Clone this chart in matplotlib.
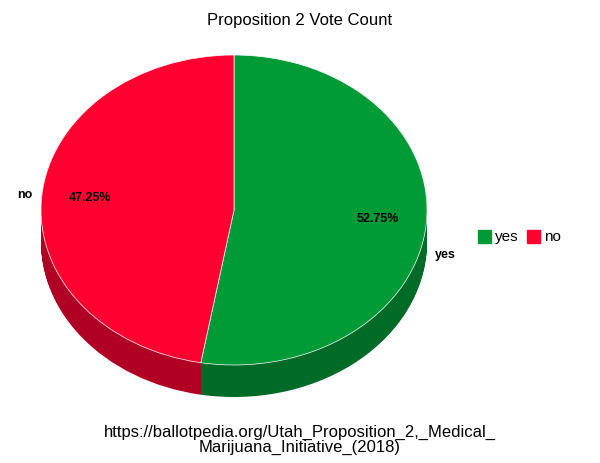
import matplotlib
matplotlib.use("Agg")
import matplotlib.pyplot as plt
import numpy as np

plt.rcParams['font.family'] = ['Liberation Sans', 'DejaVu Sans']

labels = ["yes", "no"]
values = [52.75, 47.25]
pct_text = ["52.75%", "47.25%"]
top_colors = ["#009a37", "#ff0030"]
side_colors = ["#006b26", "#b00024"]

W, H = 600, 463
fig = plt.figure(figsize=(6, 4.63), dpi=100)
depth = 32 / 155.0
x0, x1, yt, yb = 41, 427, 55, 365 + 32
ax = fig.add_axes([x0 / W, 1 - yb / H, (x1 - x0) / W, (yb - yt) / H])

for d in np.linspace(depth, 0.005, 40):
    ax.pie(values, colors=side_colors, startangle=90, counterclock=False,
           center=(0, -d), radius=1, frame=False,
           wedgeprops=dict(linewidth=0))
ax.pie(values, colors=top_colors, startangle=90, counterclock=False,
       center=(0, 0), radius=1, frame=False,
       wedgeprops=dict(linewidth=0.5, edgecolor="white"))
ax.set_aspect("auto")
ax.set_xlim(-1, 1)
ax.set_ylim(-1 - depth, 1)
ax.axis("off")

def ft(x, y, s, **kw):
    fig.text(x / W, 1 - y / H, s, **kw)

ft(300, 20, "Proposition 2 Vote Count", ha="center", va="center", fontsize=12)
ft(378, 219, pct_text[0], ha="center", va="center", fontsize=9, fontweight="bold")
ft(90, 198, pct_text[1], ha="center", va="center", fontsize=9, fontweight="bold")
ft(445, 255, labels[0], ha="center", va="center", fontsize=9, fontweight="bold")
ft(25, 195, labels[1], ha="center", va="center", fontsize=9, fontweight="bold")

for (lx, c, t) in [(478, top_colors[0], labels[0]), (527, top_colors[1], labels[1])]:
    fig.patches.append(plt.Rectangle((lx / W, 1 - 243 / H), 13 / W, 13 / H,
                                     color=c, transform=fig.transFigure))
    ft(lx + 17, 237, t, ha="left", va="center", fontsize=11)

ft(300, 440, "https://ballotpedia.org/Utah_Proposition_2,_Medical_\nMarijuana_Initiative_(2018)",
   ha="center", va="center", fontsize=12, linespacing=1.0)

fig.savefig("out.png", dpi=100)
